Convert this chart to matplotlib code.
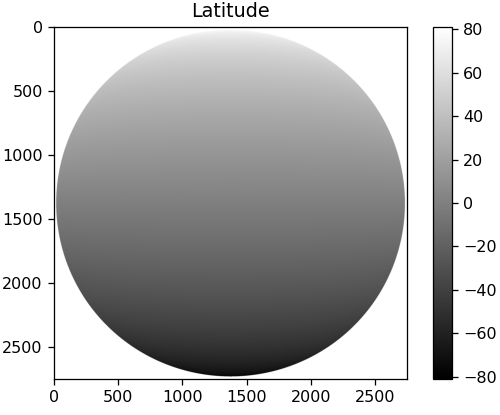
import numpy as np
import matplotlib
matplotlib.use("Agg")
import matplotlib.pyplot as plt

# Geostationary full-disk grid parameters (Himawari-like, 4 km)
n_pixels = 2750
center = 1375.5
cfac = 10233137.0
step_deg = 65536 / cfac          # scan angle per pixel, degrees
h_km = 42164.0                   # satellite distance from Earth centre
r_eq = 6378.137
r_pol = 6356.7523

idx = np.arange(n_pixels) + 0.5
ang = np.deg2rad((idx - center) * step_deg)
x, y = np.meshgrid(ang, -ang)

c1 = (r_eq / r_pol) ** 2
cosx, cosy, sinx, siny = np.cos(x), np.cos(y), np.sin(x), np.sin(y)
q = cosy**2 + c1 * siny**2
disc = (h_km * cosx * cosy) ** 2 - q * (h_km**2 - r_eq**2)
with np.errstate(invalid="ignore"):
    sd = np.sqrt(disc)
    sn = (h_km * cosx * cosy - sd) / q
    s1 = h_km - sn * cosx * cosy
    s2 = sn * sinx * cosy
    s3 = sn * siny
    sxy = np.sqrt(s1**2 + s2**2)
    lat = np.degrees(np.arctan(c1 * s3 / sxy))
lat[~(disc >= 0)] = np.nan

cmap = plt.get_cmap("gray").copy()
cmap.set_bad("white")

dpi = 115
fig = plt.figure(figsize=(500 / dpi, 415 / dpi), dpi=dpi)
ax = fig.add_axes([54 / 500, 1 - 379 / 415, 353 / 500, 352 / 415])
cax = fig.add_axes([433 / 500, 1 - 379 / 415, 19 / 500, 352 / 415])
im = ax.imshow(lat, cmap=cmap, aspect="auto", interpolation_stage="rgba")
fig.colorbar(im, cax=cax)
ax.set_title("Latitude")
fig.savefig("out.png", dpi=dpi)
